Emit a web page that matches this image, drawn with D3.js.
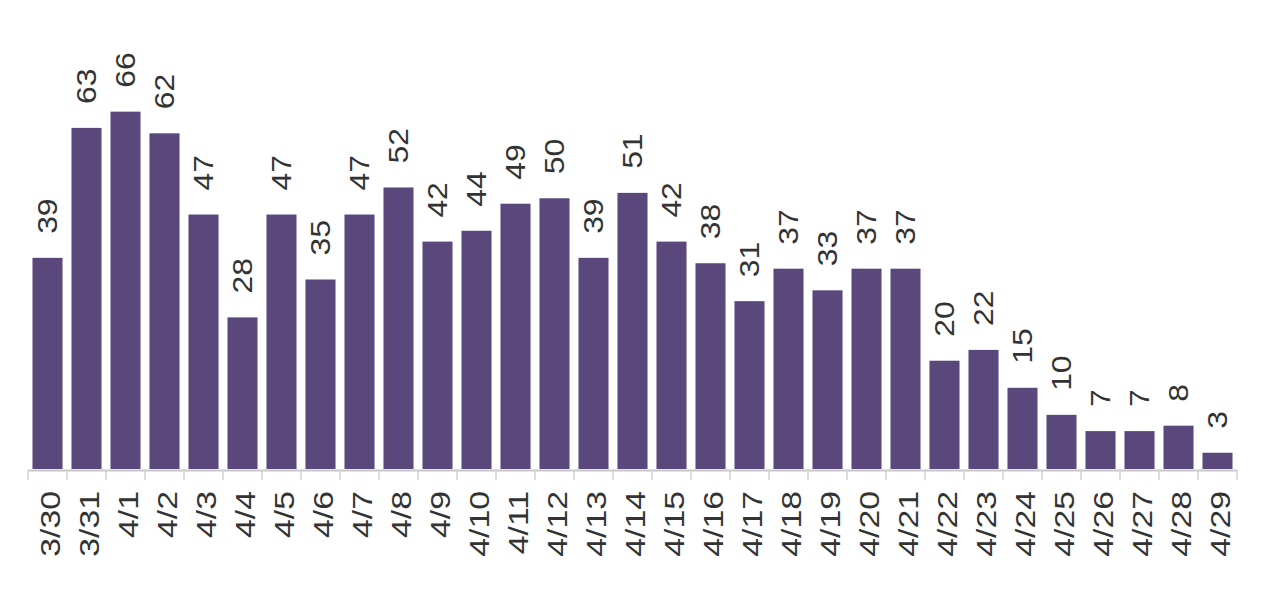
<html lang="en">
<head>
    <meta charset="UTF-8">
    <title>Daily counts</title>
    <script src="https://cdn.jsdelivr.net/npm/d3@7"></script>
    <style>
        body { margin: 0; background: #fff; }
        text { font-family: "Liberation Sans", Arial, sans-serif; fill: #333; }
    </style>
</head>
<body>
    <svg id="svg"></svg>

    <script>
        var WIDTH = 1280;
        var HEIGHT = 598;

        var dates = ["3/30","3/31","4/1","4/2","4/3","4/4","4/5","4/6","4/7","4/8",
                     "4/9","4/10","4/11","4/12","4/13","4/14","4/15","4/16","4/17","4/18",
                     "4/19","4/20","4/21","4/22","4/23","4/24","4/25","4/26","4/27","4/28","4/29"];
        var counts = [39,63,66,62,47,28,47,35,47,52,
                      42,44,49,50,39,51,42,38,31,37,
                      33,37,37,20,22,15,10,7,7,8,3];

        var svg = d3.select("#svg")
                    .attr("width", WIDTH)
                    .attr("height", HEIGHT);

        var xScale = d3.scaleBand()
                       .domain(dates)
                       .range([28, 1237])
                       .paddingInner(0.23)
                       .paddingOuter(0.115);

        var yScale = d3.scaleLinear()
                       .domain([0, 70])
                       .range([469, 90]);

        // bars
        svg.selectAll("rect.bar")
           .data(counts)
           .enter()
           .append("rect")
           .attr("class", "bar")
           .attr("x", function(d, i){ return xScale(dates[i]); })
           .attr("y", function(d){ return yScale(d); })
           .attr("width", xScale.bandwidth())
           .attr("height", function(d){ return yScale(0) - yScale(d); })
           .attr("fill", "#5a477c");

        // value labels (text looks stretched along its length in the original)
        svg.selectAll("text.val")
           .data(counts)
           .enter()
           .append("text")
           .attr("class", "val")
           .attr("transform", function(d, i){
               var cx = xScale(dates[i]) + xScale.bandwidth() / 2;
               return "translate(" + cx + "," + (yScale(d) - 24) + ") rotate(-90) scale(1.18,1)";
           })
           .attr("dy", "0.36em")
           .attr("text-anchor", "start")
           .style("font-size", "27px")
           .text(function(d){ return d; });

        // axis line + ticks at band edges
        var axis = svg.append("g");
        axis.append("line")
            .attr("x1", 28).attr("x2", 1237)
            .attr("y1", 470.5).attr("y2", 470.5)
            .attr("stroke", "#c8c8c8")
            .attr("stroke-width", 2);

        var edges = dates.map(function(d){ return xScale(d) - xScale.step() * 0.115; });
        edges.push(xScale(dates[dates.length - 1]) + xScale.bandwidth() + xScale.step() * 0.115);
        axis.selectAll("line.tick")
            .data(edges)
            .enter()
            .append("line")
            .attr("class", "tick")
            .attr("x1", function(d){ return d; })
            .attr("x2", function(d){ return d; })
            .attr("y1", 470).attr("y2", 480)
            .attr("stroke", "#d0d0d0")
            .attr("stroke-width", 1.5);

        // category labels
        axis.selectAll("text.cat")
            .data(dates)
            .enter()
            .append("text")
            .attr("class", "cat")
            .attr("transform", function(d){
                var cx = xScale(d) + xScale.bandwidth() / 2 + 3;
                return "translate(" + cx + ",491) rotate(-90) scale(1.25,1)";
            })
            .attr("dy", "0.36em")
            .attr("text-anchor", "end")
            .style("font-size", "27px")
            .text(function(d){ return d; });
    </script>
</body>
</html>
